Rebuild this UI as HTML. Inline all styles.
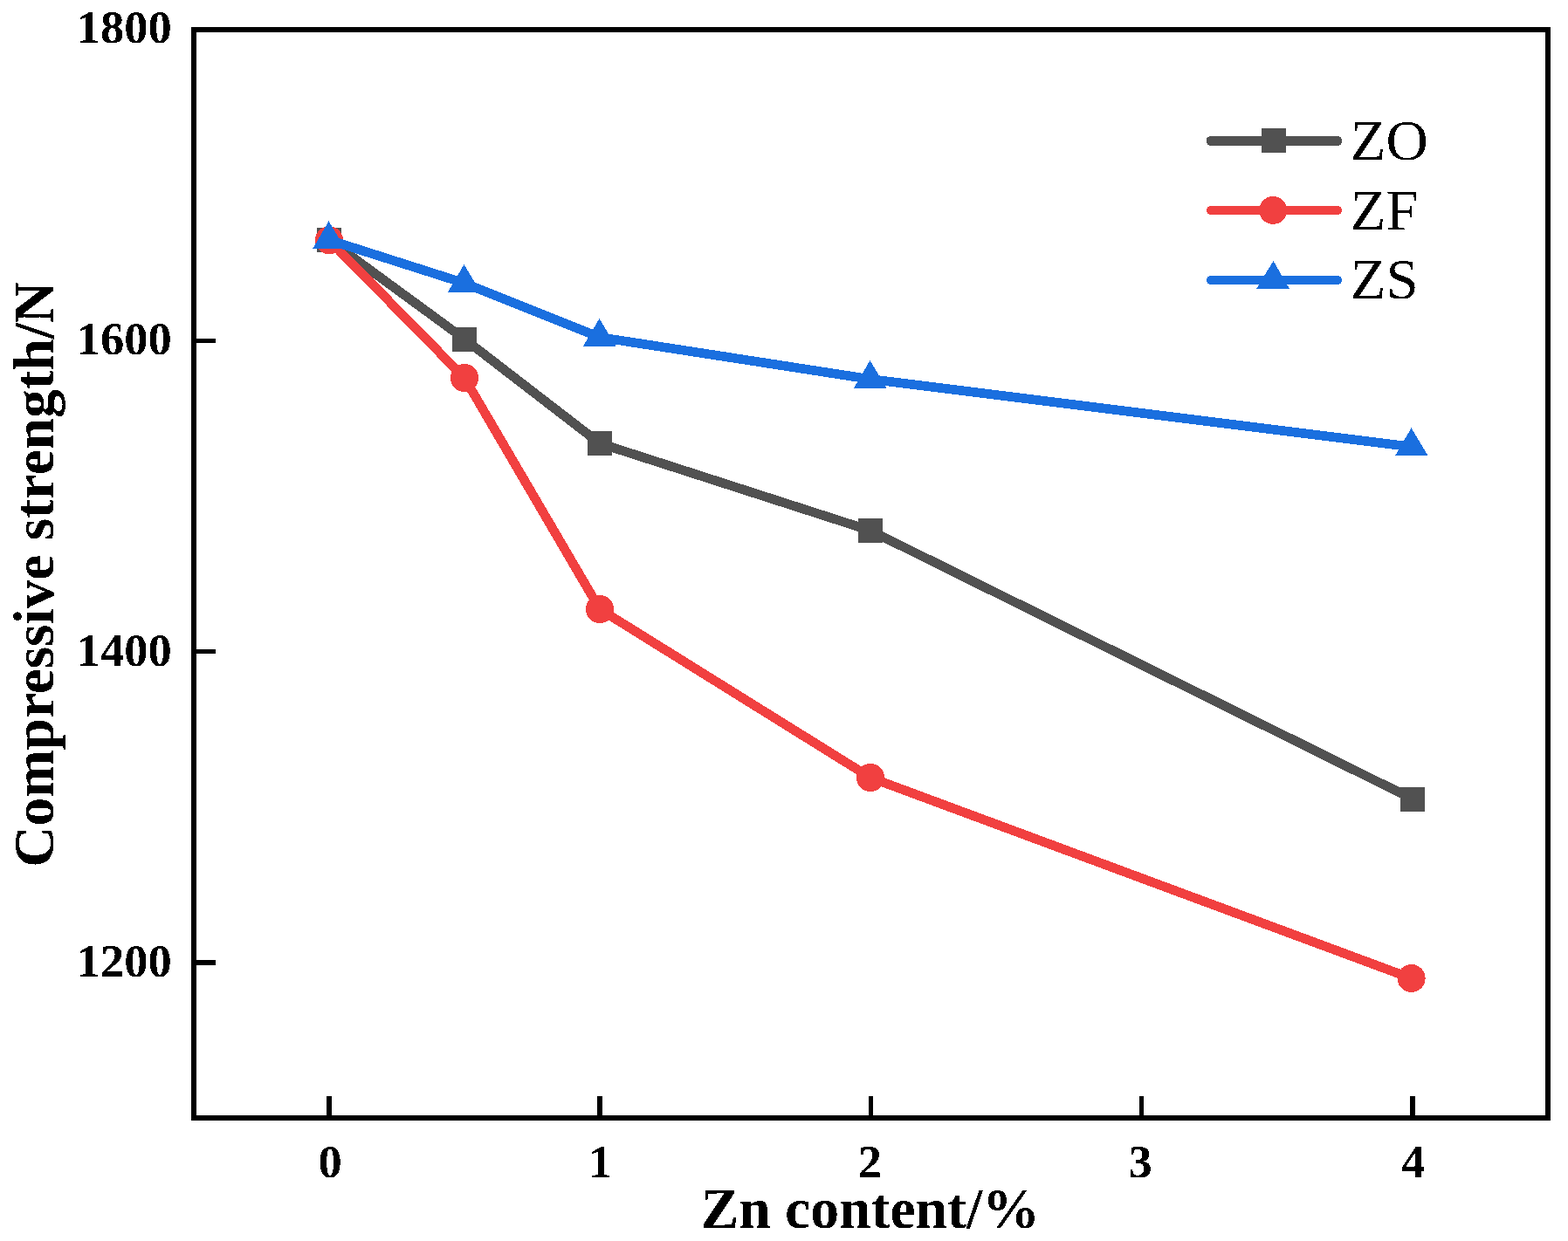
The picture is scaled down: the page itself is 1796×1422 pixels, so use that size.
<!DOCTYPE html>
<html lang="en">
<head>
<meta charset="utf-8">
<title>Compressive strength vs Zn content</title>
<style>
html,body{margin:0;padding:0;background:#fff;}
body{width:1796px;height:1422px;overflow:hidden;}
svg{display:block;}
text{font-family:"Liberation Serif",serif;fill:#000;}
.tick{font-weight:bold;font-size:52.4px;}
.title{font-weight:bold;font-size:65px;}
.leg{font-size:65px;}
</style>
</head>
<body>
<svg width="1796" height="1422" viewBox="0 0 1796 1422" shape-rendering="crispEdges">
<defs>
<filter id="bw" x="0" y="0" width="1796" height="1422" filterUnits="userSpaceOnUse" color-interpolation-filters="sRGB">
<feComponentTransfer><feFuncA type="discrete" tableValues="0 1"/></feComponentTransfer>
</filter>
</defs>
<rect x="0" y="0" width="1796" height="1422" fill="#fff"/>
<g shape-rendering="crispEdges" fill="#000">
<rect x="219" y="31" width="1557" height="6"/>
<rect x="219" y="1278" width="1557" height="6"/>
<rect x="219" y="31" width="6" height="1253"/>
<rect x="1770" y="31" width="6" height="1253"/>
<rect x="225" y="388" width="22" height="5"/>
<rect x="225" y="744" width="22" height="5"/>
<rect x="225" y="1100" width="22" height="6"/>
<rect x="374" y="1256" width="6" height="22"/>
<rect x="684" y="1256" width="6" height="22"/>
<rect x="995" y="1256" width="5" height="22"/>
<rect x="1305" y="1256" width="5" height="22"/>
<rect x="1615" y="1256" width="6" height="22"/>
</g>
<g fill="none" stroke-width="10.6" stroke-linejoin="round" stroke-linecap="round">
<polyline points="377,275 532,388.5 687,508 997,608 1618,915.5" stroke="#515151"/>
</g>
<rect x="363" y="261" width="28" height="28" fill="#515151"/>
<rect x="518" y="374.5" width="28" height="28" fill="#515151"/>
<rect x="673" y="494" width="28" height="28" fill="#515151"/>
<rect x="983" y="594" width="28" height="28" fill="#515151"/>
<rect x="1604" y="901.5" width="28" height="28" fill="#515151"/>
<polyline points="377,275.3 532,433 687,698 997,891 1616.6,1121" stroke="#F14040" fill="none" stroke-width="10.6" stroke-linejoin="round" stroke-linecap="round"/>
<circle cx="377" cy="275.3" r="16" fill="#F14040"/>
<circle cx="532" cy="433" r="16" fill="#F14040"/>
<circle cx="687" cy="698" r="16" fill="#F14040"/>
<circle cx="997" cy="891" r="16" fill="#F14040"/>
<circle cx="1616.6" cy="1121" r="16" fill="#F14040"/>
<polyline points="377,275 532,324.5 687,386.5 997,434.5 1617,512" stroke="#1A6FDF" fill="none" stroke-width="10.6" stroke-linejoin="round" stroke-linecap="round"/>
<polygon points="376.5,253.4 395.6,285.3 358,285.3" fill="#1A6FDF"/>
<polygon points="531.5,302.9 550.6,334.8 513,334.8" fill="#1A6FDF"/>
<polygon points="686.5,364.9 705.6,396.8 668,396.8" fill="#1A6FDF"/>
<polygon points="996.5,412.9 1015.6,444.8 978,444.8" fill="#1A6FDF"/>
<polygon points="1616.5,490.4 1635.6,522.3 1598,522.3" fill="#1A6FDF"/>
<line x1="1387" y1="161.5" x2="1532" y2="161.5" stroke="#515151" stroke-width="11" stroke-linecap="round"/>
<rect x="1445" y="147" width="28" height="28" fill="#515151"/>
<line x1="1387" y1="241" x2="1532" y2="241" stroke="#F14040" stroke-width="10" stroke-linecap="round"/>
<circle cx="1458.2" cy="241" r="16" fill="#F14040"/>
<line x1="1387" y1="321" x2="1532" y2="321" stroke="#1A6FDF" stroke-width="10" stroke-linecap="round"/>
<polygon points="1458.5,299 1477,331 1439,331" fill="#1A6FDF"/>
<g id="labels" filter="url(#bw)">
<text class="leg" transform="translate(1546.5,182.8) scale(1.03,1)">ZO</text>
<text class="leg" transform="translate(1546.5,262.6) scale(1.03,1)">ZF</text>
<text class="leg" transform="translate(1546.5,342.4) scale(1.03,1)">ZS</text>
<text class="tick" transform="translate(196.8,49.2) scale(1.04,1)" text-anchor="end">1800</text>
<text class="tick" transform="translate(196.8,406) scale(1.04,1)" text-anchor="end">1600</text>
<text class="tick" transform="translate(196.8,763) scale(1.04,1)" text-anchor="end">1400</text>
<text class="tick" transform="translate(196.8,1119) scale(1.04,1)" text-anchor="end">1200</text>
<text class="tick" transform="translate(378.0,1349) scale(1.04,1)" text-anchor="middle">0</text>
<text class="tick" transform="translate(687.5,1349) scale(1.04,1)" text-anchor="middle">1</text>
<text class="tick" transform="translate(996.3,1349) scale(1.04,1)" text-anchor="middle">2</text>
<text class="tick" transform="translate(1306.0,1349) scale(1.04,1)" text-anchor="middle">3</text>
<text class="tick" transform="translate(1618.5,1349) scale(1.04,1)" text-anchor="middle">4</text>
<text class="title" transform="translate(996.6,1407.3) scale(1.01,1)" text-anchor="middle">Zn content/%</text>
<text class="title" transform="translate(61,658.3) rotate(-90) scale(1.005,1)" text-anchor="middle">Compressive strength/N</text>
</g>
</svg>
</body>
</html>
